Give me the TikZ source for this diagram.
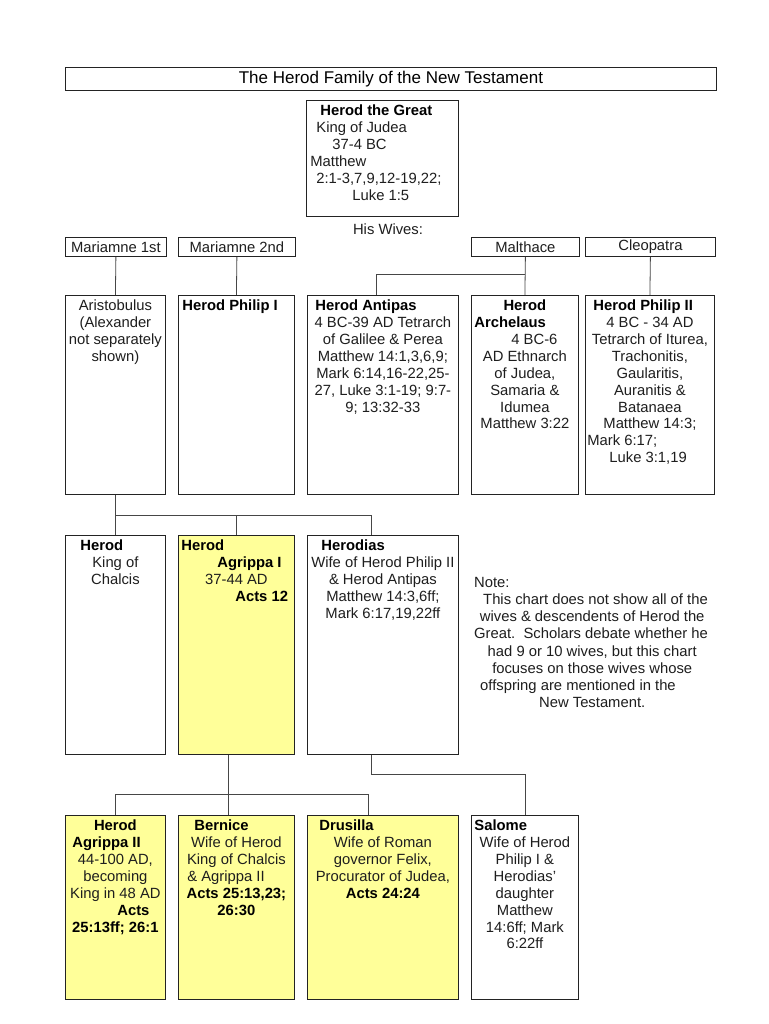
\documentclass[tikz,border=0pt]{standalone}
\usepackage{fontspec}
\setmainfont{Liberation Sans}
\usepackage{tikz}
\usetikzlibrary{positioning}
\usepackage{xcolor}
\definecolor{boxline}{RGB}{35,35,35}
\definecolor{linkgray}{RGB}{70,70,70}
\definecolor{inkgray}{RGB}{30,30,30}
\definecolor{famyellow}{RGB}{255,255,153}
\newcommand{\bodyfont}{\fontsize{14.8}{16.9}\selectfont}
\newcommand{\notefont}{\fontsize{14.8}{17.2}\selectfont}
\newcommand{\famcell}[3]{\parbox[t][\dimexpr#2pt-10pt\relax][t]{\dimexpr#1pt-3pt\relax}{#3}}
\newcommand{\ctr}[1]{\makebox[\linewidth]{#1}\par}
\newcommand{\lft}[2]{\makebox[\linewidth][l]{\hspace*{#1pt}#2}\par}
\newcommand{\hd}[1]{{\bfseries\color{black}#1}}
\tikzset{
  member/.style={draw=boxline, line width=0.8pt, fill=white, anchor=north west, inner xsep=1pt, inner ysep=4.5pt, font=\bodyfont, text=inkgray},
  heir/.style={member, fill=famyellow},
  wife/.style={draw=boxline, line width=0.8pt, anchor=north west, inner sep=0pt, minimum height=19pt, font=\bodyfont, text=inkgray},
  link/.style={draw=linkgray, line width=0.8pt}
}

\begin{document}
\begin{tikzpicture}[x=1pt, y=-1pt]
\useasboundingbox[fill=white] (0,0) rectangle (768,1024);
\node[draw=boxline, line width=0.8pt, anchor=north west, minimum width=651pt, minimum height=23pt, inner sep=0pt, font=\fontsize{17}{20}\selectfont] (title) at (65,67) {The Herod Family of the New Testament};
\node[member] (great) at (306,100) {\famcell{153}{117}{\lft{13}{\hd{Herod the Great}}\lft{9}{King of Judea}\lft{25}{37-4 BC}\lft{3}{Matthew}\lft{9}{2:1-3,7,9,12-19,22;}\lft{45}{Luke 1:5}}};
\node[font=\bodyfont, text=inkgray] (wivesnote) at (388,229) {His Wives:};
\node[wife, minimum width=101pt] (mariamne1) at (65,237) {Mariamne 1st};
\node[wife, minimum width=117pt] (mariamne2) at (178,237) {Mariamne 2nd};
\node[wife, minimum width=108pt] (malthace) at (471,237) {Malthace};
\node[wife, minimum width=130pt] (cleopatra) at (585,237) {Cleopatra};
\node[member] (aristobulus) at (65,295) {\famcell{101}{200}{\ctr{Aristobulus}\ctr{(Alexander}\ctr{not separately}\ctr{shown)}}};
\node[member] (philip1) at (178,295) {\famcell{117}{200}{\lft{3}{\hd{Herod Philip I}}}};
\node[member] (antipas) at (307,295) {\famcell{152}{200}{\lft{7}{\hd{Herod Antipas}}\ctr{4 BC-39 AD Tetrarch}\ctr{of Galilee \& Perea}\ctr{Matthew 14:1,3,6,9;}\ctr{Mark 6:14,16-22,25-}\ctr{27, Luke 3:1-19; 9:7-}\ctr{9; 13:32-33}}};
\node[member] (archelaus) at (471,295) {\famcell{108}{200}{\ctr{\hd{Herod}}\lft{2}{\hd{Archelaus}}\lft{39}{4 BC-6}\ctr{AD Ethnarch}\ctr{of Judea,}\ctr{Samaria \&}\ctr{Idumea}\ctr{Matthew 3:22}}};
\node[member] (philip2) at (585,295) {\famcell{130}{200}{\lft{7}{\hd{Herod Philip II}}\ctr{4 BC - 34 AD}\ctr{Tetrarch of Iturea,}\ctr{Trachonitis,}\ctr{Gaularitis,}\ctr{Auranitis \&}\ctr{Batanaea}\ctr{Matthew 14:3;}\lft{1}{Mark 6:17;}\lft{23}{Luke 3:1,19}}};
\node[member] (chalcis) at (65,535) {\famcell{101}{220}{\lft{14}{\hd{Herod}}\ctr{King of}\ctr{Chalcis}}};
\node[heir] (agrippa1) at (178,535) {\famcell{117}{220}{\lft{2}{\hd{Herod}}\lft{38}{\hd{Agrippa I}}\ctr{37-44 AD}\lft{56}{\hd{Acts 12}}}};
\node[member] (herodias) at (307,535) {\famcell{152}{220}{\lft{13}{\hd{Herodias}}\ctr{Wife of Herod Philip II}\ctr{\& Herod Antipas}\ctr{Matthew 14:3,6ff;}\ctr{Mark 6:17,19,22ff}}};
\node[anchor=north west, inner sep=0pt, text=inkgray] (note) at (472,577) {\parbox[t]{240pt}{\notefont\lft{2}{Note:}\lft{11}{This chart does not show all of the}\ctr{wives \& descendents of Herod the}\lft{2}{Great.\ \ Scholars debate whether he}\ctr{had 9 or 10 wives, but this chart}\ctr{focuses on those wives whose}\lft{8}{offspring are mentioned in the}\ctr{New Testament.}}};
\node[heir] (agrippa2) at (65,815) {\famcell{101}{185}{\ctr{\hd{Herod}}\lft{6}{\hd{Agrippa II}}\ctr{44-100 AD,}\ctr{becoming}\ctr{King in 48 AD}\lft{51}{\hd{Acts}}\ctr{\hd{25:13ff; 26:1}}}};
\node[heir] (bernice) at (178,815) {\famcell{117}{185}{\lft{15}{\hd{Bernice}}\ctr{Wife of Herod}\ctr{King of Chalcis}\lft{8}{\& Agrippa II}\ctr{\hd{Acts 25:13,23;}}\ctr{\hd{26:30}}}};
\node[heir] (drusilla) at (307,815) {\famcell{152}{185}{\lft{11}{\hd{Drusilla}}\ctr{Wife of Roman}\ctr{governor Felix,}\ctr{Procurator of Judea,}\ctr{\hd{Acts 24:24}}}};
\node[member] (salome) at (471,815) {\famcell{108}{185}{\lft{2}{\hd{Salome}}\ctr{Wife of Herod}\ctr{Philip I \&}\ctr{Herodias'}\ctr{daughter}\ctr{Matthew}\ctr{14:6ff; Mark}\ctr{6:22ff}}};
\draw[link] (mariamne1.south) -- (aristobulus.north);
\draw[link] (mariamne2.south) -- (philip1.north);
\draw[link] (malthace.south) -- (archelaus.north);
\path (malthace.south) ++(0,18) coordinate (malfork);
\draw[link] ([xshift=-7pt]antipas.north) |- (malfork);
\draw[link] (cleopatra.south) -- (philip2.north);
\path (aristobulus.south) ++(0,21) coordinate (arifork);
\draw[link] (aristobulus.south) -- (chalcis.north);
\draw[link] (agrippa1.north) -- (agrippa1.north |- arifork);
\draw[link] (chalcis.north |- arifork) -| ([xshift=-12pt]herodias.north);
\path (herodias.south) ++(0,20) coordinate (herfork);
\draw[link] ([xshift=-12pt]herodias.south) |- (salome.north |- herfork) -- (salome.north);
\path (agrippa1.south) ++(0,40) coordinate (agrfork);
\draw[link] ([xshift=-8pt]agrippa1.south) -- ([xshift=-8pt]bernice.north);
\draw[link] (agrippa2.north) |- ([xshift=-15pt]drusilla.north |- agrfork) -- ([xshift=-15pt]drusilla.north);
\end{tikzpicture}
\end{document}
